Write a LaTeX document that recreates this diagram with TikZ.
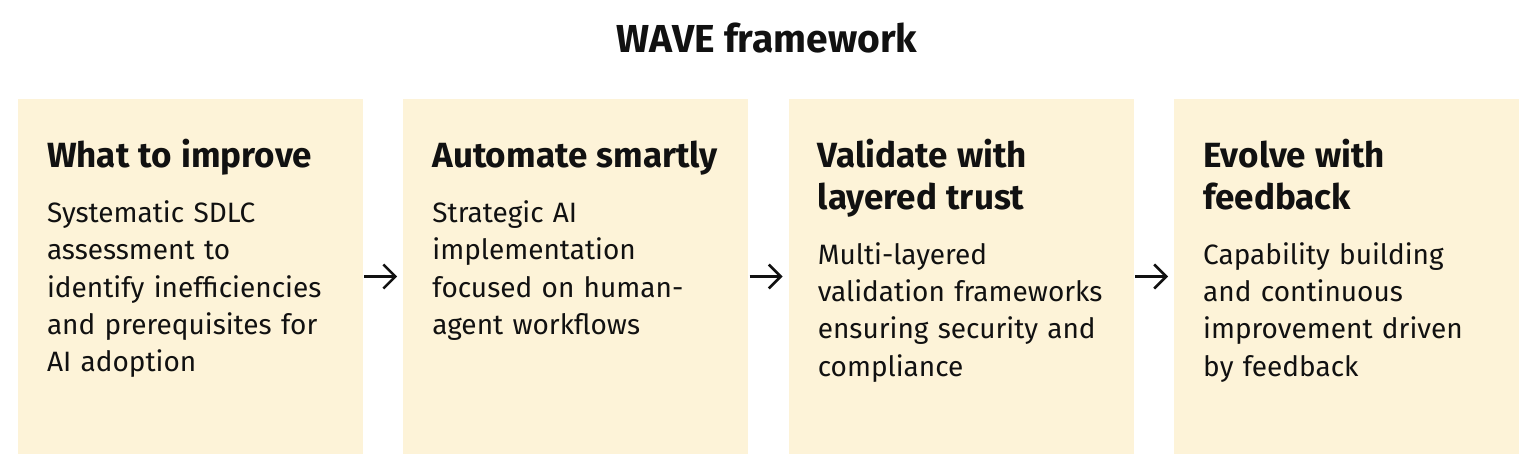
\documentclass[tikz,border=0pt]{standalone}
\usepackage{fontspec}
\setmainfont{Fira Sans}
\usetikzlibrary{positioning,arrows.meta}
\definecolor{cream}{RGB}{253,243,216}
\definecolor{ink}{RGB}{17,17,17}
\newcommand{\headfont}{\fontsize{35}{41.7}\selectfont\bfseries}

\begin{document}
\begin{tikzpicture}[x=1pt, y=1pt,
  stage/.style={fill=cream, minimum width=345pt, minimum height=355pt, inner sep=0pt},
  card/.style={anchor=base west, inner sep=0pt, text width=314pt, align=left, text=ink, font=\fontsize{28}{37.3}\selectfont},
  flow/.style={-{Straight Barb[length=12pt,width=24pt]}, line width=2.6pt, draw=ink, shorten <=1pt, shorten >=6pt},
  node distance=40pt]
  \useasboundingbox (0,0) rectangle (1536,472);
  \node[text=ink, font=\fontsize{39}{46}\selectfont\bfseries, anchor=base] (title) at (767,419) {WAVE framework};

  \node[stage] (b1) at (190.5,195.5) {};
  \node[stage, right=of b1] (b2) {};
  \node[stage, right=of b2] (b3) {};
  \node[stage, right=of b3] (b4) {};

  \node[card] (t1) at ([xshift=29pt, yshift=-68.7pt]b1.north west) {{\headfont What to improve\par}\vspace{17.7pt}Systematic SDLC\\assessment to\\identify inefficiencies\\and prerequisites for\\AI adoption};
  \node[card] (t2) at ([xshift=29pt, yshift=-68.7pt]b2.north west) {{\headfont Automate smartly\par}\vspace{17.7pt}Strategic AI\\implementation\\focused on human-\\agent workflows};
  \node[card] (t3) at ([xshift=29pt, yshift=-68.7pt]b3.north west) {{\headfont Validate with\\layered trust\par}\vspace{17.7pt}Multi-layered\\validation frameworks\\ensuring security and\\compliance};
  \node[card] (t4) at ([xshift=29pt, yshift=-68.7pt]b4.north west) {{\headfont Evolve with\\feedback\par}\vspace{17.7pt}Capability building\\and continuous\\improvement driven\\by feedback};

  \draw[flow] (b1) -- (b2);
  \draw[flow] (b2) -- (b3);
  \draw[flow] (b3) -- (b4);
\end{tikzpicture}
\end{document}
